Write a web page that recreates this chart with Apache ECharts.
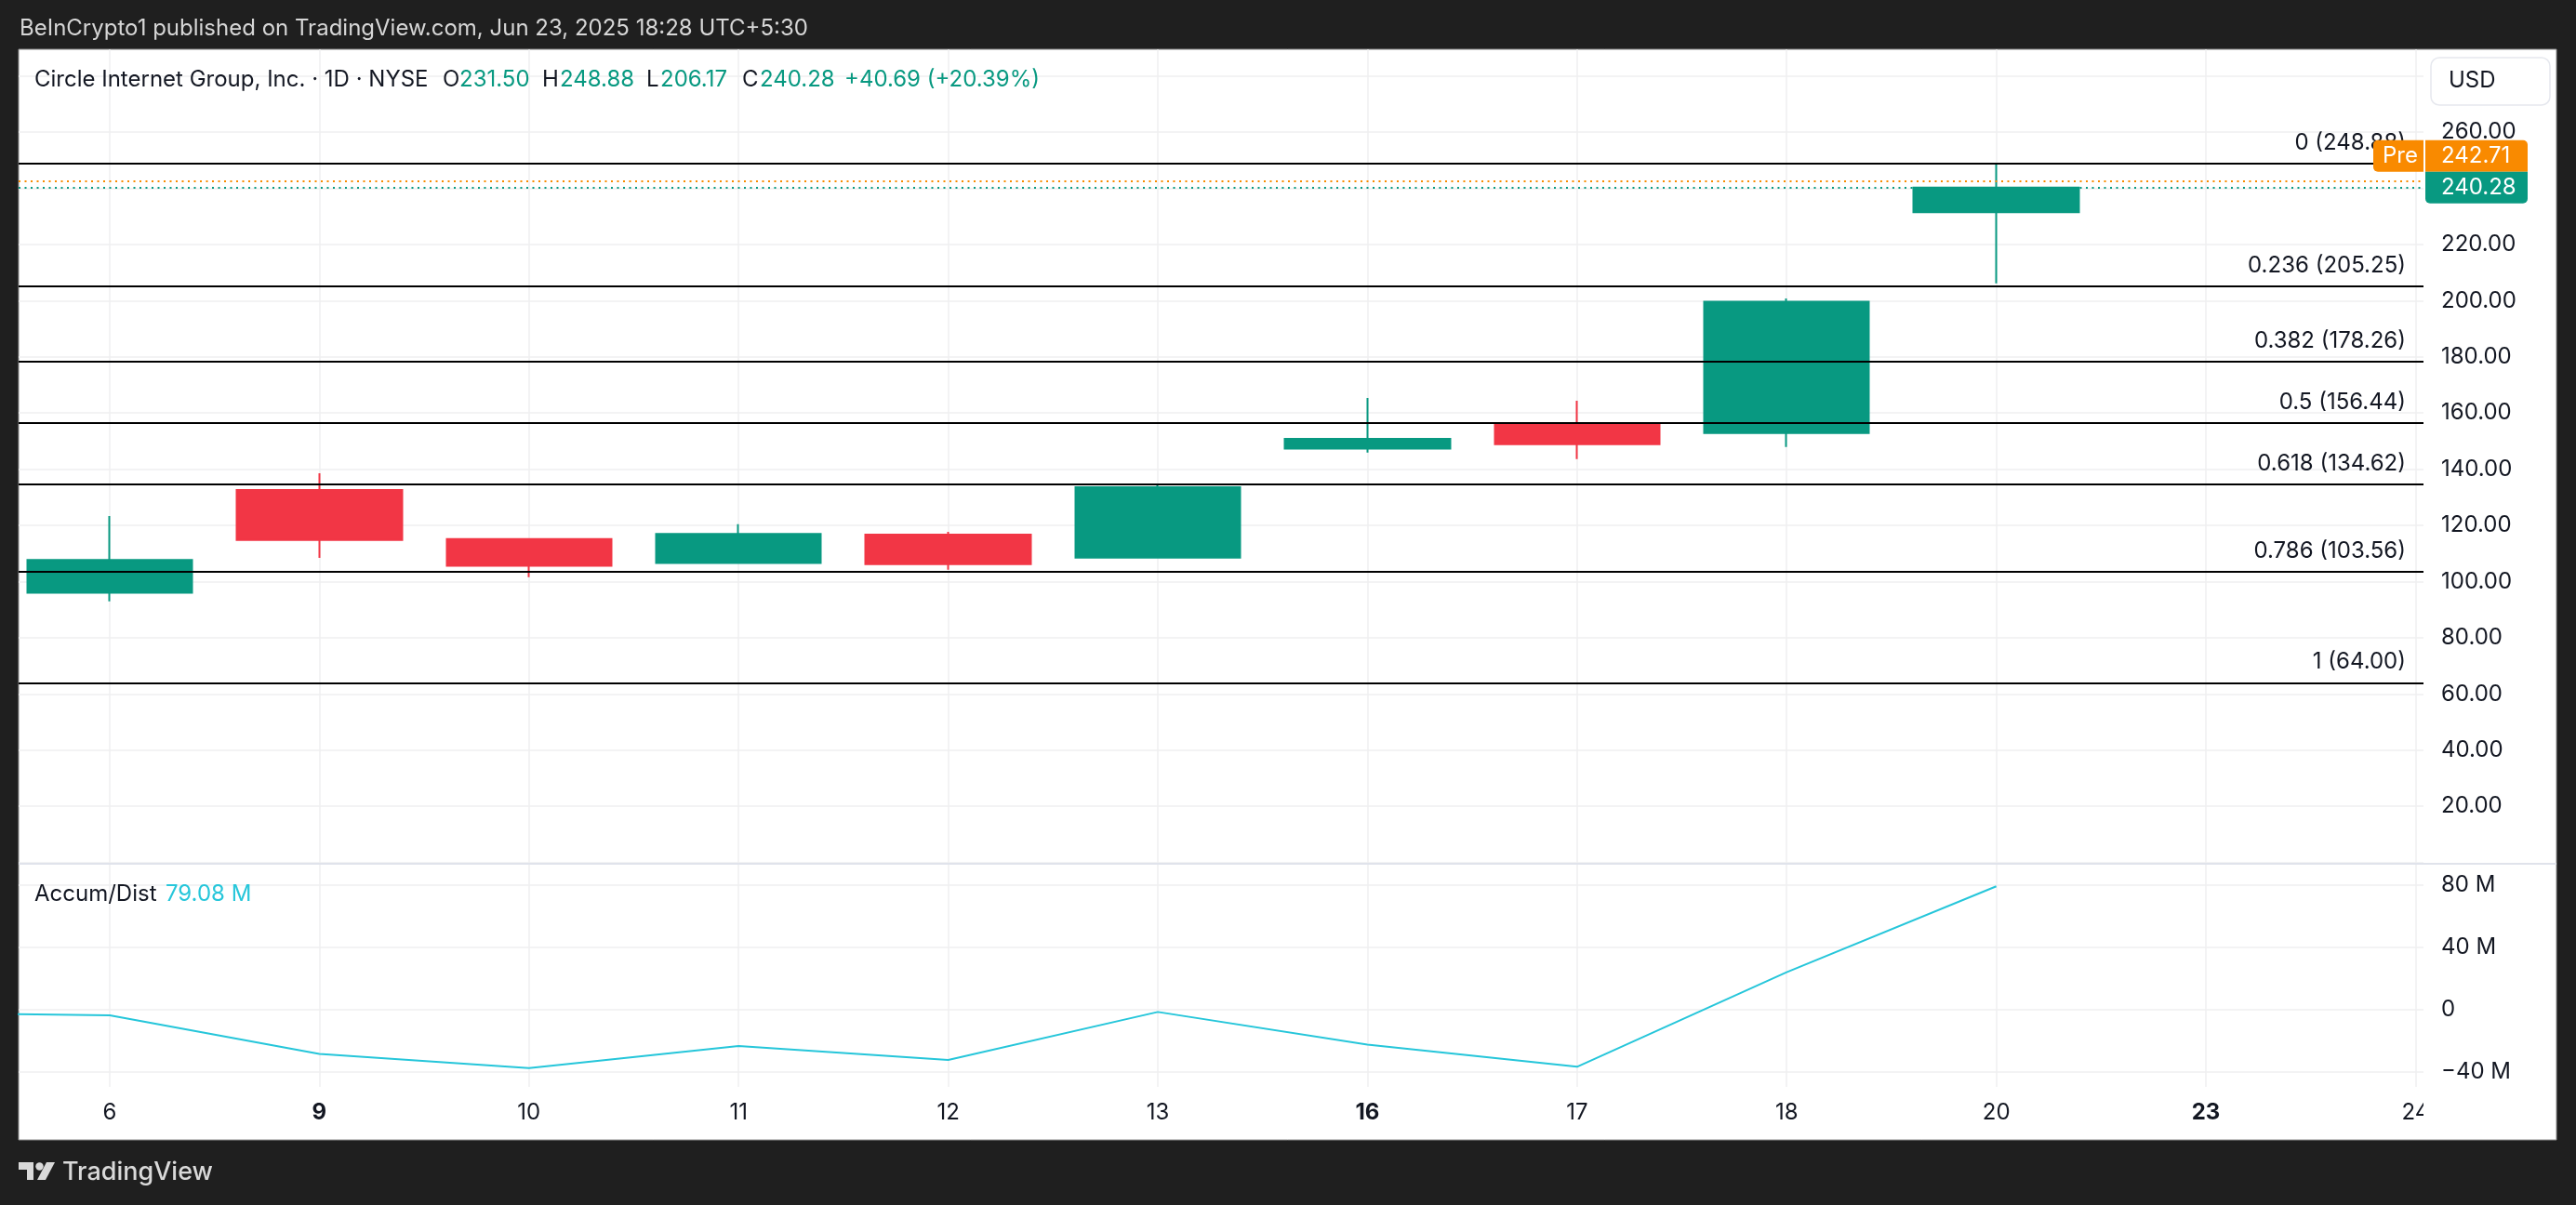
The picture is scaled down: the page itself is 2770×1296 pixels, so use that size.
<!DOCTYPE html>
<html><head><meta charset="utf-8">
<script src="https://cdn.jsdelivr.net/npm/echarts@6/dist/echarts.min.js"></script>
<style>html,body{margin:0;padding:0;background:#1f1f1f;}#c{width:2770px;height:1296px;}</style>
</head><body><div id="c"></div>
<script>
// ---- data ----
const xLabels = ['6','9','10','11','12','13','16','17','18','20','23','24'];
const boldLabels = ['9','16','23'];
const candleOpen  = [96.0, 132.6, 115.1, 106.6, 116.7, 108.5, 147.3, 156.2, 152.9, 231.50];
const candleClose = [107.7, 114.8, 105.6, 117.0, 106.2, 133.6, 150.8, 148.9, 199.59, 240.28];
const candleLow   = [93.0, 108.4, 101.6, 106.3, 104.2, 108.3, 145.9, 143.6, 147.9, 206.17];
const candleHigh  = [123.3, 138.6, 115.3, 120.4, 117.7, 134.5, 165.4, 164.4, 200.8, 248.88];
const fibLevels = [0, 0.236, 0.382, 0.5, 0.618, 0.786, 1];
const fibPrices = [248.88, 205.25, 178.26, 156.44, 134.62, 103.56, 64.00];
const lastClose = 240.28;
const preMarket = 242.71;
// Accum/Dist in millions, first value is the prior session (Jun 5, off-screen left)
const adValuesM = [-2.0, -3.8, -28.6, -37.6, -23.5, -32.4, -1.6, -22.5, -36.8, 23.9, 79.08];
const priceMin = 0, priceMax = 280, priceStep = 20;
const adMin = -40, adMax = 80, adStep = 40;

// ---- styling ----
const UP = '#089981', DOWN = '#F23645', TXT = '#131722', AD = '#26c6da', ORANGE = '#f98a00';
const FONT = 'Inter';
const XMIN = -0.4348, XMAX = 11.038;
const L = 20, W = 2586;
const gridColor = '#efeff1';

const chart = echarts.init(document.getElementById('c'), null, {renderer: 'canvas'});

function xAxisBase(gi, extra) {
  return Object.assign({
    type: 'value', gridIndex: gi, min: XMIN, max: XMAX,
    minInterval: 1, maxInterval: 1, splitNumber: 11,
    axisLine: {show: false}, axisTick: {show: false},
    axisLabel: {show: false},
    splitLine: {show: false}
  }, extra || {});
}
const vSplit = {show: true, showMinLine: false, showMaxLine: false, lineStyle: {color: gridColor, width: 1.5}};

const fibData = fibLevels.map((lv, i) => ({
  yAxis: fibPrices[i],
  lineStyle: {color: '#000', width: 2, type: 'solid'},
  label: {
    show: true, position: 'insideEndTop', distance: [19, 10],
    formatter: lv + ' (' + fibPrices[i].toFixed(2) + ')',
    color: TXT, fontSize: 24, fontFamily: FONT
  }
}));
const dotData = [
  {yAxis: preMarket, lineStyle: {color: ORANGE, width: 2, type: [2, 4.5]}, label: {show: false}},
  {yAxis: lastClose, lineStyle: {color: UP, width: 2, type: [2, 4.5]}, label: {show: false}}
];

const option = {
  backgroundColor: '#1f1f1f',
  animation: false,
  grid: [
    {left: L, top: 81.7, width: W, height: 845.9},   // candles
    {left: L, top: 53, width: W, height: 876},        // main pane vertical lines
    {left: L, top: 929, width: W, height: 240},       // lower pane vertical lines + dates
    {left: L, top: 951.7, width: W, height: 201}      // A/D
  ],
  xAxis: [
    xAxisBase(0),
    xAxisBase(1, {splitLine: vSplit}),
    xAxisBase(2, {
      splitLine: vSplit,
      axisLabel: {
        show: true, margin: 16, color: TXT, fontSize: 24, fontFamily: FONT,
        showMinLabel: false, showMaxLabel: true,
        formatter: v => {
          const r = Math.round(v);
          if (Math.abs(v - r) > 1e-6) return '';
          const lab = xLabels[r];
          if (lab == null) return '';
          return boldLabels.indexOf(lab) >= 0 ? '{b|' + lab + '}' : lab;
        },
        rich: {b: {fontWeight: 'bold', fontSize: 24, fontFamily: FONT, color: TXT}}
      }
    }),
    xAxisBase(3)
  ],
  yAxis: [
    {
      type: 'value', gridIndex: 0, position: 'right', min: priceMin, max: priceMax, interval: priceStep,
      axisLine: {show: false}, axisTick: {show: false},
      splitLine: {show: true, lineStyle: {color: gridColor, width: 1.5}},
      axisLabel: {
        margin: 19, color: TXT, fontSize: 24, fontFamily: FONT, align: 'left',
        formatter: v => (v <= priceMin || v >= priceMax) ? '' : v.toFixed(2)
      }
    },
    {type: 'value', gridIndex: 1, min: 0, max: 1, show: false},
    {type: 'value', gridIndex: 2, min: 0, max: 1, show: false},
    {
      type: 'value', gridIndex: 3, position: 'right', min: adMin * 1e6, max: adMax * 1e6, interval: adStep * 1e6,
      axisLine: {show: false}, axisTick: {show: false},
      splitLine: {show: true, lineStyle: {color: gridColor, width: 1.5}},
      axisLabel: {
        margin: 19, color: TXT, fontSize: 24, fontFamily: FONT, align: 'left',
        formatter: v => {
          const m = Math.round(v / 1e6);
          if (m === 0) return '0';
          return (m < 0 ? '\u2212' + Math.abs(m) : m) + ' M';
        }
      }
    }
  ],
  series: [
    {
      type: 'candlestick', xAxisIndex: 0, yAxisIndex: 0,
      data: candleOpen.map((o, i) => [i, o, candleClose[i], candleLow[i], candleHigh[i]]),
      encode: {x: 0, y: [1, 2, 3, 4]},
      barWidth: 178, clip: false,
      itemStyle: {color: UP, color0: DOWN, borderColor: UP, borderColor0: DOWN, borderWidth: 2},
      markLine: {
        silent: true, symbol: ['none', 'none'], animation: false,
        data: dotData.concat(fibData)
      },
      z: 3
    },
    {
      type: 'line', xAxisIndex: 3, yAxisIndex: 3,
      data: adValuesM.map((v, i) => [i - 1, v * 1e6]),
      symbol: 'none', clip: true,
      lineStyle: {color: AD, width: 2}
    }
  ],
  graphic: []
};
chart.setOption(option);

// ---- static chrome + price tags ----
const yClose = chart.convertToPixel({yAxisIndex: 0}, lastClose);
const tagH = 34;
const gy = yClose - tagH / 2;
const oy = gy - tagH;

const g = [
  {type: 'rect', z: -1, shape: {x: 20, y: 53, width: 2729, height: 1173}, style: {fill: '#ffffff', stroke: '#8c8c8c', lineWidth: 1}},
  {type: 'line', z: 1, shape: {x1: 20, y1: 929, x2: 2749, y2: 929}, style: {stroke: '#e0e3eb', lineWidth: 2}},
  // mask overflow of date labels into price-scale area
  {type: 'rect', z: 50, shape: {x: 2606, y: 1172, width: 142, height: 53}, style: {fill: '#ffffff'}},
  // top publisher line
  {type: 'text', z: 10, x: 21, y: 31, style: {text: 'BeInCrypto1 published on TradingView.com, Jun 23, 2025 18:28 UTC+5:30', fill: '#d6d6d6', font: '24px Inter', verticalAlign: 'middle'}},
  // legend line
  {type: 'text', z: 10, x: 37, y: 86, style: {text: 'Circle Internet Group, Inc. \u00b7 1D \u00b7 NYSE', fill: TXT, font: '24px Inter', verticalAlign: 'middle'}},
  {type: 'text', z: 10, x: 476, y: 86, style: {text: 'O', fill: TXT, font: '24px Inter', verticalAlign: 'middle'}},
  {type: 'text', z: 10, x: 494, y: 86, style: {text: candleOpen[9].toFixed(2), fill: UP, font: '24px Inter', verticalAlign: 'middle'}},
  {type: 'text', z: 10, x: 583, y: 86, style: {text: 'H', fill: TXT, font: '24px Inter', verticalAlign: 'middle'}},
  {type: 'text', z: 10, x: 602, y: 86, style: {text: candleHigh[9].toFixed(2), fill: UP, font: '24px Inter', verticalAlign: 'middle'}},
  {type: 'text', z: 10, x: 695, y: 86, style: {text: 'L', fill: TXT, font: '24px Inter', verticalAlign: 'middle'}},
  {type: 'text', z: 10, x: 710, y: 86, style: {text: candleLow[9].toFixed(2), fill: UP, font: '24px Inter', verticalAlign: 'middle'}},
  {type: 'text', z: 10, x: 798, y: 86, style: {text: 'C', fill: TXT, font: '24px Inter', verticalAlign: 'middle'}},
  {type: 'text', z: 10, x: 817, y: 86, style: {text: candleClose[9].toFixed(2), fill: UP, font: '24px Inter', verticalAlign: 'middle'}},
  {type: 'text', z: 10, x: 908, y: 86, style: {text: '+' + (candleClose[9] - candleClose[8]).toFixed(2) + ' (+' + ((candleClose[9] / candleClose[8] - 1) * 100).toFixed(2) + '%)', fill: UP, font: '24px Inter', verticalAlign: 'middle'}},
  // USD box
  {type: 'rect', z: 10, shape: {x: 2614, y: 62, width: 128, height: 51, r: 9}, style: {fill: '#ffffff', stroke: '#e6e8ee', lineWidth: 1.5}},
  {type: 'text', z: 11, x: 2633, y: 87, style: {text: 'USD', fill: TXT, font: '24px Inter', verticalAlign: 'middle'}},
  // Accum/Dist legend
  {type: 'text', z: 10, x: 37, y: 962, style: {text: 'Accum/Dist', fill: TXT, font: '24px Inter', verticalAlign: 'middle'}},
  {type: 'text', z: 10, x: 178, y: 962, style: {text: adValuesM[adValuesM.length - 1].toFixed(2) + ' M', fill: AD, font: '24px Inter', verticalAlign: 'middle'}},
  // price tags
  {type: 'rect', z: 20, shape: {x: 2552, y: oy, width: 54, height: tagH, r: [5, 0, 0, 5]}, style: {fill: ORANGE}},
  {type: 'text', z: 21, x: 2562, y: oy + tagH / 2, style: {text: 'Pre', fill: '#ffffff', font: '24px Inter', verticalAlign: 'middle'}},
  {type: 'rect', z: 20, shape: {x: 2608, y: oy, width: 110, height: tagH, r: [0, 5, 0, 0]}, style: {fill: ORANGE}},
  {type: 'text', z: 21, x: 2625, y: oy + tagH / 2, style: {text: preMarket.toFixed(2), fill: '#ffffff', font: '24px Inter', verticalAlign: 'middle'}},
  {type: 'rect', z: 20, shape: {x: 2608, y: gy, width: 110, height: tagH, r: [0, 0, 5, 5]}, style: {fill: UP}},
  {type: 'text', z: 21, x: 2625, y: gy + tagH / 2, style: {text: lastClose.toFixed(2), fill: '#ffffff', font: '24px Inter', verticalAlign: 'middle'}},
  // footer logo
  {type: 'polygon', z: 10, shape: {points: [[20, 1250], [36, 1250], [36, 1269], [29, 1269], [29, 1258], [20, 1258]]}, style: {fill: '#d9d9d9'}},
  {type: 'circle', z: 10, shape: {cx: 42.5, cy: 1254.5, r: 4.2}, style: {fill: '#d9d9d9'}},
  {type: 'polygon', z: 10, shape: {points: [[50, 1250], [59, 1250], [49, 1269], [40, 1269]]}, style: {fill: '#d9d9d9'}},
  {type: 'text', z: 10, x: 67, y: 1261, style: {text: 'TradingView', fill: '#d9d9d9', font: '500 27px Inter', verticalAlign: 'middle'}}
];
chart.setOption({graphic: g});
</script>
</body></html>
